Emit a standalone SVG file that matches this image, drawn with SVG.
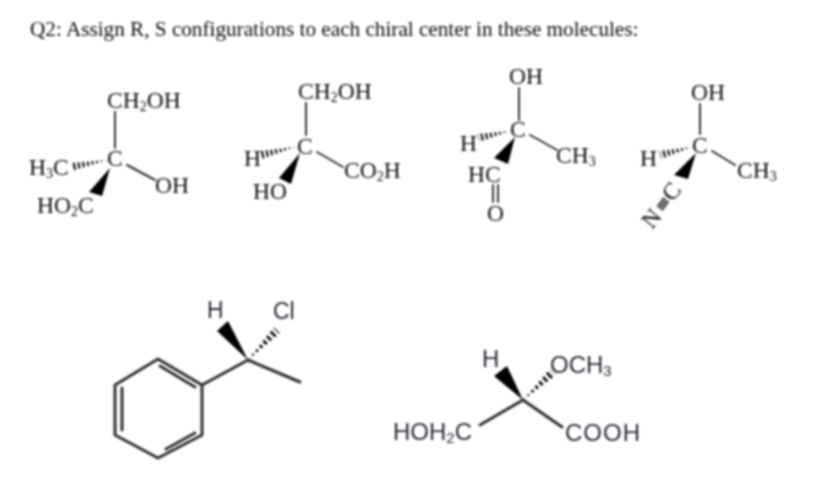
<svg xmlns="http://www.w3.org/2000/svg" width="828" height="502" viewBox="0 0 828 502">
<style>
text{fill:#111}
.s{font-family:"Liberation Serif","Times New Roman",serif;font-size:23.5px}
.a{font-family:"Liberation Sans",Arial,sans-serif;font-size:24px;fill:#2c2c38}
.c{font-size:23px}
.t{font-family:"Liberation Serif","Times New Roman",serif;font-size:21.2px}
.b{fill:none;stroke:#333;stroke-width:2;stroke-linecap:round}
.r{fill:none;stroke:#333;stroke-width:3;stroke-linecap:round;stroke-linejoin:round}
.w{fill:#000;stroke:none}
.d{stroke:#fff;stroke-width:14;fill:none;stroke-dasharray:2 2.6}
.d2{stroke:#fff;stroke-width:14;fill:none;stroke-dasharray:2.6 3.2}
</style>
<defs>
<filter id="soft" filterUnits="userSpaceOnUse" x="0" y="0" width="828" height="502"><feGaussianBlur stdDeviation="0.9"/></filter>
<mask id="dash" maskUnits="userSpaceOnUse" x="0" y="0" width="828" height="502">
<path class="d" d="M107 160L71 167M295 147L261 155M510 131L478 138M692 147L660 155"/>
<path class="d2" d="M248 360L277 330M523 400L553 372"/>
</mask>
</defs>
<rect width="828" height="502" fill="#fff"/>
<g filter="url(#soft)">
<text id="title" class="t" x="30" y="36">Q2: Assign R, S configurations to each chiral center in these molecules:</text>

<g id="connectors">
<path class="b" d="M115 112V148M127 165L155 180M306 103V135M317 152L343 167M519 88V120M530 135L557 150M700 104V134M712 151L735 165M493 185V202M498 185V202M660 208L666 200M662.2 209.7L668.2 201.7M657.8 206.3L663.8 198.3"/>
<path class="r" d="M248 360L300 382M248 360L202 385L202 435L158 458L115 435L115 385L158 359L202 385"/>
<path class="r" d="M160 366L195 387M122 388V430M166 449L195 433"/>
<path class="r" d="M523 400L480 425M523 400L562 427"/>
<path class="w" d="M110 168L89 192L102 196ZM300 153L279 178L291 184ZM515 137L494 158L508 164ZM696 153L674 175L688 179ZM248 360L217 331L228 321ZM523 400L494 376L507 366Z"/>
<g mask="url(#dash)">
<path class="w" d="M107 160L71 163L72 171ZM295 147L260 151L262 159ZM510 131L477 134L479 142ZM692 147L659 151L661 159ZM248 360L274 327L280 333ZM523 400L550 369L556 375Z"/>
</g>
</g>

<g id="mol1">
<text class="s" x="107" y="108">CH<tspan font-size="14" dy="3">2</tspan><tspan dy="-3">OH</tspan></text>
<text class="s" x="107" y="166">C</text>
<text class="s" x="29" y="175">H<tspan font-size="14" dy="3">3</tspan><tspan dy="-3">C</tspan></text>
<text class="s" x="155" y="193">OH</text>
<text class="s" x="37" y="213">HO<tspan font-size="14" dy="3">2</tspan><tspan dy="-3">C</tspan></text>
</g>
<g id="mol2">
<text class="s" x="298" y="99">CH<tspan font-size="14" dy="3">2</tspan><tspan dy="-3">OH</tspan></text>
<text class="s" x="297" y="154">C</text>
<text class="s" x="244" y="166">H</text>
<text class="s" x="344" y="178">CO<tspan font-size="14" dy="3">2</tspan><tspan dy="-3">H</tspan></text>
<text class="s" x="253" y="199">HO</text>
</g>
<g id="mol3">
<text class="s" x="509" y="84">OH</text>
<text class="s" x="510" y="137">C</text>
<text class="s" x="460" y="151">H</text>
<text class="s" x="556" y="163">CH<tspan font-size="14" dy="3">3</tspan></text>
<text class="s" x="468" y="182">HC</text>
<text class="s" x="487" y="221">O</text>
</g>
<g id="mol4">
<text class="s" x="691" y="100">OH</text>
<text class="s" x="692" y="153">C</text>
<text class="s" x="640" y="166">H</text>
<text class="s" x="737" y="178">CH<tspan font-size="14" dy="3">3</tspan></text>
<text class="s" text-anchor="middle" transform="translate(672 192) rotate(-50)" y="7">C</text>
<text class="s" text-anchor="middle" transform="translate(652 219) rotate(-50)" y="7">N</text>
</g>
<g id="mol5">
<text class="a c" x="207" y="318">H</text>
<text class="a c" x="273" y="319">Cl</text>
</g>
<g id="mol6">
<text class="a" x="482" y="367">H</text>
<text class="a" x="550" y="373">OCH<tspan font-size="15" dy="3">3</tspan></text>
<text class="a" x="393" y="440">HOH<tspan font-size="15" dy="3">2</tspan><tspan dy="-3">C</tspan></text>
<text class="a" x="565" y="441" textLength="75">COOH</text>
</g>
</g>
</svg>
